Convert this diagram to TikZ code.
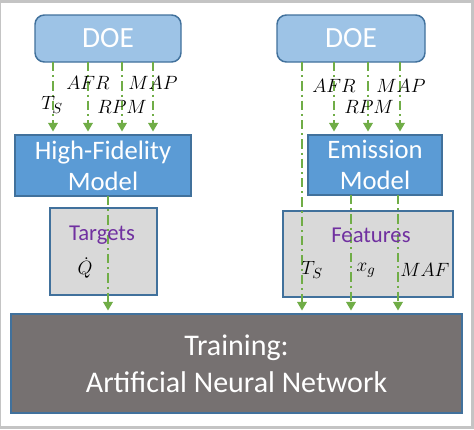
\documentclass[tikz,border=0pt]{standalone}
\usepackage{fontspec}
\setmainfont{Carlito}
\usetikzlibrary{arrows.meta}
\definecolor{doeblue}{HTML}{9DC3E6}
\definecolor{modelblue}{HTML}{5B9BD5}
\definecolor{edgeblue}{HTML}{41719C}
\definecolor{boxgray}{HTML}{D9D9D9}
\definecolor{traingray}{HTML}{767171}
\definecolor{flowgreen}{HTML}{70AD47}
\definecolor{labelpurple}{HTML}{7030A0}
\definecolor{framegray}{HTML}{C4C4C4}

\begin{document}
\begin{tikzpicture}[x=0.75pt,y=0.75pt,yscale=-1,xscale=1,
  box/.style={draw=edgeblue, line width=1.1pt, inner sep=0pt, align=center},
  flow/.style={draw=flowgreen, line width=1.9pt, dash pattern=on 7pt off 3pt on 1.5pt off 3pt,
    -{Triangle[width=7pt,length=6.5pt]}, shorten >=2pt},
  lbl/.style={inner sep=0.5pt, font=\fontsize{15}{17}\selectfont}]
\useasboundingbox (0,0) rectangle (474,429);

%Frame
\fill[framegray] (0,0) rectangle (474,429);
\fill[white] (1,2.5) rectangle (471,426);

%Shape: Rounded Rect [DOE left and right]
\node[box, fill=doeblue, rounded corners=7pt, minimum width=109.5pt, minimum height=35.25pt,
  text=white, font=\fontsize{22}{26}\selectfont] (doeL) at (108,38.5) {DOE};
\node[box, fill=doeblue, rounded corners=7pt, minimum width=111pt, minimum height=35.25pt,
  text=white, font=\fontsize{22}{26}\selectfont] (doeR) at (351,38.5) {DOE};

%Shape: Rectangle [models]
\node[box, fill=modelblue, minimum width=132pt, minimum height=45.75pt,
  text=white, font=\fontsize{20}{23}\selectfont] (hfm) at (103,165.5) {High-Fidelity\\Model};
\node[box, fill=modelblue, minimum width=100.5pt, minimum height=45pt,
  text=white, font=\fontsize{20}{23.5}\selectfont] (emm) at (375,165) {Emission\\Model};

%Shape: Rectangle [outputs]
\node[box, fill=boxgray, minimum width=80.25pt, minimum height=65.25pt] (tgt) at (103.5,251.5) {};
\node[box, fill=boxgray, minimum width=127.5pt, minimum height=64.5pt] (feat) at (368,254) {};

%Shape: Rectangle [training]
\node[box, fill=traingray, minimum width=338.25pt, minimum height=74.25pt,
  text=white, font=\fontsize{22.5}{27.75}\selectfont] (train) at (236.5,363.5) {Training:\\Artificial Neural Network};

%Straight Lines [DOE left to high-fidelity model]
\coordinate (tsL) at (53,62);
\coordinate (afrL) at (88,62);
\coordinate (rpmL) at (122,62);
\coordinate (mapL) at (153,62);
\foreach \c in {tsL,afrL,rpmL,mapL}
  \draw[flow] (\c) -- (\c |- hfm.north);

%Straight Lines [high-fidelity model to training]
\coordinate (qL) at (108,196);
\draw[flow] (qL) -- (qL |- train.north);

%Straight Lines [DOE right]
\coordinate (tsR) at (302,62);
\coordinate (afrR) at (334,62);
\coordinate (rpmR) at (368,62);
\coordinate (mapR) at (400,62);
\draw[flow] (tsR) -- (tsR |- train.north);
\foreach \c in {afrR,rpmR,mapR}
  \draw[flow] (\c) -- (\c |- emm.north);

%Straight Lines [emission model to training]
\coordinate (xgR) at (351,195);
\coordinate (mafR) at (398,195);
\foreach \c in {xgR,mafR}
  \draw[flow] (\c) -- (\c |- train.north);

% Text Node
\node[lbl] (lafrL) at (88,83) {$AFR$};
\node[lbl] (lmapL) at (153,83) {$MAP$};
\node[lbl] (ltsL) at (52,105) {$T_S$};
\node[lbl] (lrpmL) at (122,107) {$RPM$};
% Text Node
\node[lbl] (lafrR) at (334,86) {$AFR$};
\node[lbl] (lmapR) at (401,86) {$MAP$};
\node[lbl] (lrpmR) at (369,107) {$RPM$};
% Text Node
\node[inner sep=0.75pt, text=labelpurple, font=\fontsize{17}{20}\selectfont] (ltgt) at (102,235) {Targets};
\node[lbl] (lq) at (85,268) {$\dot{Q}$};
% Text Node
\node[inner sep=0.75pt, text=labelpurple, font=\fontsize{17}{20}\selectfont] (lfeat) at (371,235) {Features};
\node[lbl] (ltsR) at (312,270) {$T_S$};
\node[lbl] (lxg) at (366,270) {$x_g$};
\node[lbl] (lmaf) at (425,270) {$MAF$};

\end{tikzpicture}
\end{document}
